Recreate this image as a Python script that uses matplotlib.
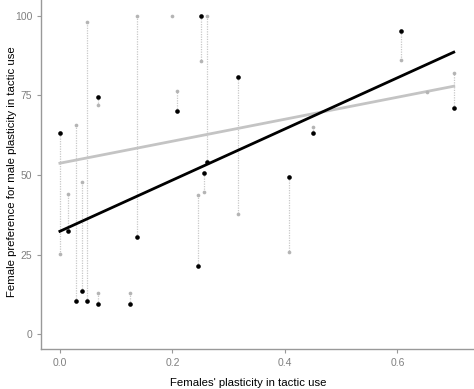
import numpy as np
import matplotlib
matplotlib.use("Agg")
import matplotlib.pyplot as plt

plt.rcParams['font.family'] = ['Liberation Sans', 'DejaVu Sans']

# females' plasticity in tactic use
plasticity = [0.0, 0.0137, 0.0284, 0.039, 0.048, 0.067, 0.067, 0.125, 0.137, 0.2,
              0.209, 0.250, 0.261, 0.257, 0.245, 0.317, 0.407, 0.450, 0.607, 0.701, 0.652]
# observed preference (black)
observed = [63.3, 32.4, 10.4, 13.5, 10.5, 74.4, 9.5, 9.5, 30.5, np.nan,
            70.1, 100.0, 54.2, 50.7, 21.4, 80.7, 49.4, 63.2, 95.3, 71.2, np.nan]
# predicted preference (grey)
predicted = [25.3, 43.9, 65.7, 47.7, 98.0, 72.0, 13.0, 13.0, 100.0, 100.0,
             76.4, 85.8, 100.0, 44.6, 43.7, 37.6, 25.9, 65.2, 86.2, 82.0, 76.0]

# fitted lines, read at both ends
fit_x = [0.0, 0.70]
fit_observed = [32.3, 88.6]
fit_predicted = [53.7, 77.9]

x = np.array(plasticity)
obs = np.array(observed)
pred = np.array(predicted)

fig = plt.figure(figsize=(4.74, 3.89), dpi=100)
ax = fig.add_axes([0.086, 0.102, 0.914, 0.898])

spine_col = "#999999"
for i in range(len(x)):
    if np.isnan(obs[i]):
        continue
    ax.plot([x[i], x[i]], [obs[i], pred[i]], color="#c8c8c8", lw=0.9,
            linestyle=(0, (1, 1)), zorder=1)

ax.plot(fit_x, fit_predicted, color="#c4c4c4", lw=2.0, zorder=2)
ax.plot(fit_x, fit_observed, color="black", lw=2.0, zorder=3)

ax.scatter(x, pred, s=7, color="#b4b4b4", zorder=4, linewidths=0)
ax.scatter(x, obs, s=11, color="black", zorder=5, linewidths=0)

ax.set_xlim(-0.034, 0.736)
ax.set_ylim(-4.8, 105)
ax.set_xticks([0.0, 0.2, 0.4, 0.6])
ax.set_xticklabels(["0.0", "0.2", "0.4", "0.6"])
ax.set_yticks([0, 25, 50, 75, 100])

for s in ["top", "right"]:
    ax.spines[s].set_visible(False)
for s in ["left", "bottom"]:
    ax.spines[s].set_color(spine_col)
    ax.spines[s].set_linewidth(1.0)
ax.tick_params(colors=spine_col, labelcolor="#808080", labelsize=7.5,
               length=3, width=0.8, pad=3)

fig.text(248 / 474, 1 - 383 / 389, "Females' plasticity in tactic use",
         fontsize=8.2, ha="center", va="center")
fig.text(12 / 474, 1 - 172 / 389, "Female preference for male plasticity in tactic use",
         fontsize=8.2, ha="center", va="center", rotation=90)

fig.savefig("out.png", dpi=100)
